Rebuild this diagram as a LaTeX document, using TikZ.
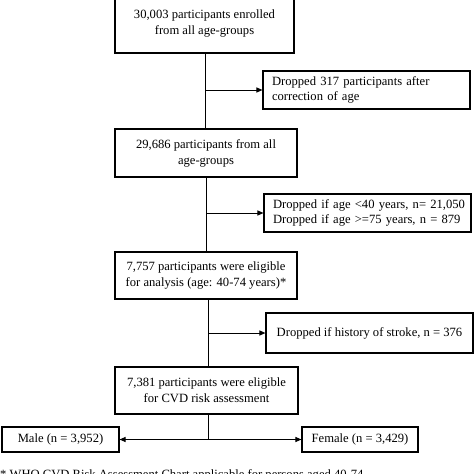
\documentclass[tikz,border=0pt]{standalone}
\usepackage{fontspec}
\setmainfont{Liberation Serif}
\usetikzlibrary{arrows.meta}
\begin{document}
\begin{tikzpicture}[x=1pt,y=-1pt,
  box/.style={draw,line width=1.1pt,align=center,inner sep=0pt,font=\fontsize{12.6}{16}\selectfont},
  lbox/.style={draw,line width=1.1pt,align=left,inner ysep=0pt,inner xsep=9pt,text width=189pt,font=\fontsize{12.6}{15.5}\selectfont},
  conn/.style={line width=1pt},
  arr/.style={conn,-{Triangle[length=6pt,width=5pt]}}]
\useasboundingbox (0,0) rectangle (474,474);
\node[box,minimum width=179pt,minimum height=60pt] (b1) at (204.5,23) {30,003 participants enrolled\\from all age-groups};
\node[lbox,minimum height=38pt] (d1) at (366.5,90) {\mbox{Dropped 317 participants after}\\correction of age};
\node[box,minimum width=182pt,minimum height=48pt] (b2) at (206,153) {29,686 participants from all\\age-groups};
\node[lbox,minimum height=38pt] (d2) at (367.5,213) {\mbox{Dropped if age <40 years, n= 21,050}\\\mbox{Dropped if age >=75 years, n = 879}};
\node[box,minimum width=182pt,minimum height=47pt] (b3) at (206,275.5) {7,757 participants were eligible\\for analysis (age: 40-74 years)*};
\node[box,minimum width=207pt,minimum height=40pt] (d3) at (369.5,333) {Dropped if history of stroke, n = 376};
\node[box,minimum width=183pt,minimum height=47pt] (b4) at (206.5,390.5) {7,381 participants were eligible\\for CVD risk assessment};
\node[box,minimum width=117pt,minimum height=25pt] (m) at (60.5,439.5) {Male (n = 3,952)};
\node[box,minimum width=116pt,minimum height=25pt] (f) at (360,439.5) {Female (n = 3,429)};
\node[anchor=base west,inner sep=0pt,font=\fontsize{12.6}{16}\selectfont] (fn) at (0,478.5) {* WHO CVD Risk Assessment Chart applicable for persons aged 40-74};
\coordinate (j1) at ([xshift=0.5pt]b1.south |- d1.west);
\coordinate (j2) at (b2.south |- d2.west);
\coordinate (j3) at ([xshift=2pt]b3.south |- d3.west);
\coordinate (j4) at ([xshift=1.5pt]b4.south |- m.east);
\draw[conn] ([xshift=0.5pt]b1.south) -- ([xshift=0.5pt]b1.south |- b2.north);
\draw[arr] (j1) -- (d1.west);
\draw[conn] (b2.south) -- (b3.north);
\draw[arr] (j2) -- (d2.west);
\draw[conn] ([xshift=2pt]b3.south) -- ([xshift=2pt]b3.south |- b4.north);
\draw[arr] (j3) -- (d3.west);
\draw[conn] ([xshift=1.5pt]b4.south) -- (j4);
\draw[arr] (j4) -- (m.east);
\draw[arr] (j4) -- (f.west);
\end{tikzpicture}
\end{document}
